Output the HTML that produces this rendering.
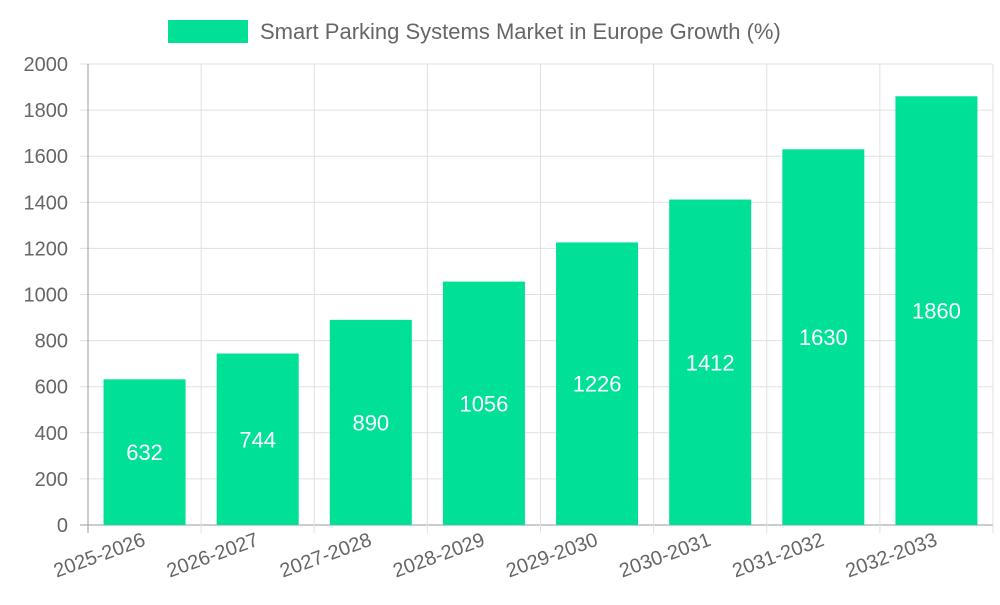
<!DOCTYPE html>
<html><head><meta charset="utf-8"><style>body{margin:0;background:#fff}svg{font-family:"Liberation Sans",sans-serif}</style></head>
<body>
<svg id="c" width="1000" height="600">
<g>
<rect x="168" y="20" width="80" height="23" fill="#00e096"/>
<text x="260" y="39" font-size="22" fill="#666">Smart Parking Systems Market in Europe Growth (%)</text>
</g>
<g id="grid"></g><g id="bars"></g><g id="axes"></g>
</svg>
<script>
const categories=["2025-2026","2026-2027","2027-2028","2028-2029","2029-2030","2030-2031","2031-2032","2032-2033"];
const values=[632,744,890,1056,1226,1412,1630,1860];
const yTicks=[0,200,400,600,800,1000,1200,1400,1600,1800,2000];
const L=88,R=993,T=64,B=525,yMax=2000;
const ns="http://www.w3.org/2000/svg";
const y=v=>B-(v/yMax)*(B-T);
const bw=(R-L)/categories.length;
const x=i=>L+bw*(i+0.5);
function mk(t,a,p){const e=document.createElementNS(ns,t);for(const k in a)e.setAttribute(k,a[k]);document.getElementById(p).appendChild(e);return e;}
yTicks.forEach(v=>{
 const g=mk("line",{x1:80,x2:R,y1:y(v),y2:y(v),stroke:v===0?"#999":"#e0e0e0","stroke-width":1},"grid");
 
 
 const t=mk("text",{x:68,y:y(v)+7,"text-anchor":"end","font-size":20,fill:"#666"},"axes");
 t.textContent=v;
 
 
});
for(let i=0;i<=categories.length;i++){
 const gx=L+bw*i;
 const g=mk("line",{x1:gx,x2:gx,y1:T,y2:533,stroke:i===0?"#999":"#e0e0e0"},"grid");
 
 
}
categories.forEach((c,i)=>{
 const w=82;
 const r=mk("rect",{x:x(i)-w/2,y:y(values[i]),width:w,height:B-y(values[i]),fill:"#00e096"},"bars");
 
 
 const t=mk("text",{x:x(i),y:(y(values[i])+B)/2+8,"text-anchor":"middle","font-size":22,fill:"#fff"},"bars");
 t.textContent=values[i];
 
 
 const lx=x(i)+2,ly=545;
 const xl=mk("text",{x:lx,y:ly,"text-anchor":"end","font-size":20,fill:"#666",transform:`rotate(-20 ${lx} ${ly})`},"axes");
 xl.textContent=c;
 
 
});
</script>
</body></html>
